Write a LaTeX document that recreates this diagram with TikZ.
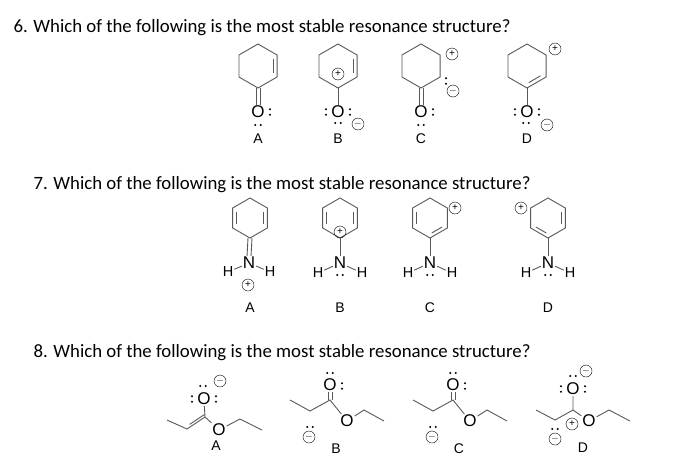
\documentclass[tikz,border=0pt]{standalone}
\usepackage{fontspec}
\setmainfont{Carlito}
\newfontfamily\atomf{Liberation Sans}
\usetikzlibrary{calc}
\tikzset{
 q/.style={anchor=west,font=\fontsize{18.8}{21}\selectfont},
 atom/.style={font=\atomf\fontsize{17}{19}\selectfont,inner sep=0.8pt},
 hatom/.style={font=\atomf\fontsize{14.5}{16}\selectfont,inner sep=0.8pt},
 lab/.style={font=\atomf\fontsize{14}{16}\selectfont},
 chg/.style={draw,circle,inner sep=0pt,minimum size=12pt,font=\atomf\fontsize{10}{10}\selectfont},
 bond/.style={line width=0.9pt,gray!70!black},
}
\newcommand\vp[2]{\fill (#1,#2-2.8) circle(1.1) (#1,#2+2.8) circle(1.1);}
\newcommand\hp[2]{\fill (#1-2.8,#2) circle(1.1) (#1+2.8,#2) circle(1.1);}
\newcommand\ring[4]{%
 \coordinate (#1) at (#2,#3);
 \coordinate (#1-b) at ($(#1)+(90:#4)$);
 \coordinate (#1-br) at ($(#1)+(30:#4)$);
 \coordinate (#1-tr) at ($(#1)+(-30:#4)$);
 \coordinate (#1-t) at ($(#1)+(-90:#4)$);
 \coordinate (#1-tl) at ($(#1)+(-150:#4)$);
 \coordinate (#1-bl) at ($(#1)+(150:#4)$);
 \draw[bond] (#1-b)--(#1-br)--(#1-tr)--(#1-t)--(#1-tl)--(#1-bl)--cycle;}
\newcommand\inner[3]{\draw[bond,shorten <=2pt,shorten >=2pt] ($(#1-#2)!.2!(#1)$)--($(#1-#3)!.2!(#1)$);}
\begin{document}
\begin{tikzpicture}[x=1pt,y=-1pt]
\useasboundingbox (0,0) rectangle (700,466);
\fill[white] (0,0) rectangle (700,466);
\node[q] (q6) at (10,28) {6. Which of the following is the most stable resonance structure?};
\node[q] (q7) at (30,185) {7. Which of the following is the most stable resonance structure?};
\node[q] (q8) at (30,353) {8. Which of the following is the most stable resonance structure?};
% ---------- Q6
\ring{a6}{258}{66}{22} \inner{a6}{tr}{br}
\node[atom] (a6O) at (258,112) {O};
\draw[bond] ([xshift=-2pt]a6-b)--([xshift=-2pt]a6O.north) ([xshift=2pt]a6-b)--([xshift=2pt]a6O.north);
\vp{270}{112} \hp{258}{125}
\node[lab] (a6l) at (258,139) {A};
\ring{b6}{338}{66}{22} \inner{b6}{tr}{br}
\node[chg] (b6p) at (338,74) {+};
\node[atom] (b6O) at (338,112) {O};
\draw[bond] (b6-b)--(b6O);
\vp{326}{112} \vp{350}{112} \hp{338}{123}
\node[chg] (b6m) at (358,124) {$-$};
\node[lab] (b6l) at (338,139) {B};
\ring{c6}{421}{66}{22}
\node[chg] (c6p) at (452,54) {+};
\vp{446}{81}
\node[chg] (c6m) at (453,91) {$-$};
\node[atom] (c6O) at (421,112) {O};
\draw[bond] ([xshift=-2pt]c6-b)--([xshift=-2pt]c6O.north) ([xshift=2pt]c6-b)--([xshift=2pt]c6O.north);
\vp{433}{112} \hp{421}{125}
\node[lab] (c6l) at (421,139) {C};
\ring{d6}{527}{66}{22} \inner{d6}{b}{br}
\node[chg] (d6p) at (555,49) {+};
\node[atom] (d6O) at (527,112) {O};
\draw[bond] (d6-b)--(d6O);
\vp{515}{112} \vp{539}{112} \hp{526}{123}
\node[chg] (d6m) at (547,125) {$-$};
\node[lab] (d6l) at (527,139) {D};
% ---------- Q7
\ring{a7}{250}{218}{20} \inner{a7}{tl}{bl} \inner{a7}{tr}{br}
\node[atom] (a7N) at (249,263) {N};
\draw[bond] ([xshift=-2pt]a7-b)--([xshift=-2pt]a7N.north) ([xshift=2pt]a7-b)--([xshift=2pt]a7N.north);
\node[hatom] (a7h1) at (228,272) {H};
\node[hatom] (a7h2) at (270,272) {H};
\draw[bond] (a7N)--(a7h1) (a7N)--(a7h2);
\node[chg] (a7p) at (248,285) {+};
\node[lab] (a7l) at (250,308) {A};
\ring{b7}{340}{218}{20} \inner{b7}{tl}{bl} \inner{b7}{tr}{br}
\node[chg] (b7p) at (340,232) {+};
\node[atom] (b7N) at (340,263) {N};
\draw[bond] (b7-b)--(b7N);
\node[hatom] (b7h1) at (318,273) {H};
\node[hatom] (b7h2) at (362,273) {H};
\draw[bond] (b7N)--(b7h1) (b7N)--(b7h2);
\hp{340}{275}
\node[lab] (b7l) at (340,308) {B};
\ring{c7}{430}{218}{20} \inner{c7}{tl}{bl} \inner{c7}{b}{br}
\node[chg] (c7p) at (455,208) {+};
\node[atom] (c7N) at (430,263) {N};
\draw[bond] (c7-b)--(c7N);
\node[hatom] (c7h1) at (408,273) {H};
\node[hatom] (c7h2) at (452,273) {H};
\draw[bond] (c7N)--(c7h1) (c7N)--(c7h2);
\hp{430}{275}
\node[lab] (c7l) at (430,308) {C};
\ring{d7}{548}{218}{20} \inner{d7}{tr}{br} \inner{d7}{b}{bl}
\node[chg] (d7p) at (521,208) {+};
\node[atom] (d7N) at (548,263) {N};
\draw[bond] (d7-b)--(d7N);
\node[hatom] (d7h1) at (526,273) {H};
\node[hatom] (d7h2) at (570,273) {H};
\draw[bond] (d7N)--(d7h1) (d7N)--(d7h2);
\hp{548}{275}
\node[lab] (d7l) at (548,308) {D};
% ---------- Q8
\coordinate (a8c1) at (167,420); \coordinate (a8c2) at (187,429); \coordinate (a8c3) at (205,417);
\node[atom] (a8O2) at (219,430) {O};
\coordinate (a8c4) at (240,419); \coordinate (a8c5) at (262,430);
\node[atom] (a8O1) at (204,399) {O};
\draw[bond] (a8c1)--(a8c2)--(a8c3)--(a8O2)--(a8c4)--(a8c5) (a8c3)--(a8O1);
\draw[bond,shorten <=2pt,shorten >=2pt] ($(a8c2)+(1,-3.5)$)--($(a8c3)+(1,-3.5)$);
\vp{192}{399} \vp{216}{399} \hp{203}{386}
\node[chg] (a8m) at (220,381) {$-$};
\node[lab] (a8l) at (216,446) {A};
\foreach \s/\L in {0/B,123/C}{
 \begin{scope}[xshift=\s]
 \coordinate (bc1) at (290,400); \coordinate (bc2) at (310,411); \coordinate (bc3) at (330,400);
 \node[atom] (bO2) at (347,421) {O};
 \coordinate (bc4) at (364,410); \coordinate (bc5) at (384,421);
 \node[atom] (bO1) at (330,385) {O};
 \draw[bond] (bc1)--(bc2)--(bc3)--(bO2)--(bc4)--(bc5);
 \draw[bond] ([xshift=-2pt]bc3)--([xshift=-2pt]bO1.south) ([xshift=2pt]bc3)--([xshift=2pt]bO1.south);
 \hp{330}{373} \vp{342}{386}
 \hp{310}{427}
 \node[chg] (bm) at (309,437) {$-$};
 \node[lab] (bl) at (336,449) {\L};
 \end{scope}}
\coordinate (d8c1) at (536,410); \coordinate (d8c2) at (555,420); \coordinate (d8c3) at (573,410);
\node[atom] (d8O2) at (589,421) {O};
\coordinate (d8c4) at (609,410); \coordinate (d8c5) at (630,421);
\node[atom] (d8O1) at (573,389) {O};
\draw[bond] (d8c1)--(d8c2)--(d8c3)--(d8O2)--(d8c4)--(d8c5) (d8c3)--(d8O1);
\vp{561}{389} \vp{585}{389} \hp{573}{376}
\node[chg] (d8m1) at (586,371) {$-$};
\node[chg] (d8p) at (572,424) {+};
\hp{555}{429}
\node[chg] (d8m2) at (555,439) {$-$};
\node[lab] (d8l) at (583,448) {D};
\end{tikzpicture}
\end{document}
